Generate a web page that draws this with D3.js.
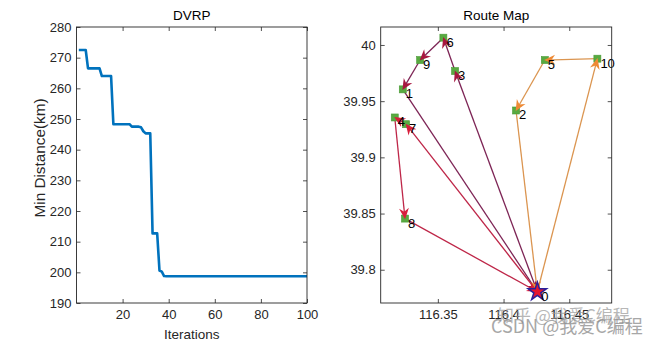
<!DOCTYPE html>
<html>
<head>
<meta charset="utf-8">
<script src="https://cdn.jsdelivr.net/npm/d3@7"></script>
<style>
  html, body { margin: 0; padding: 0; background: #fff; }
  svg { display: block; font-family: "Liberation Sans", Arial, Helvetica, sans-serif; }
</style>
</head>
<body>
<svg id="chart" width="665" height="344"></svg>
<script>
// ---------- DATA ----------
const iterations = d3.range(1, 101);
const minDistance = [
  272.5, 272.5, 272.5, 272.5,
  266.5, 266.5, 266.5, 266.5, 266.5, 266.5,
  264.0, 264.0, 264.0, 264.0, 264.0,
  248.3, 248.3, 248.3, 248.3, 248.3, 248.3, 248.3, 248.3,
  247.5, 247.5, 247.5, 247.5,
  247.3, 246.0, 245.3, 245.3, 245.3,
  212.7, 212.7, 212.7,
  200.6, 200.2, 198.8
].concat(new Array(62).fill(198.7));
const distYTicks = [190, 200, 210, 220, 230, 240, 250, 260, 270, 280];
const distXTicks = [20, 40, 60, 80, 100];

const nodeIds = [0, 1, 2, 3, 4, 5, 6, 7, 8, 9, 10];
const nodeLon = [116.4257, 116.3233, 116.4095, 116.3631, 116.3172, 116.4314, 116.3542, 116.3258, 116.3250, 116.3365, 116.4714];
const nodeLat = [39.7804, 39.9605, 39.9417, 39.9768, 39.9355, 39.9866, 40.0065, 39.9295, 39.8455, 39.9866, 39.9878];
const routeA = [0, 3, 6, 9, 1, 0];
const routeB = [0, 7, 4, 8, 0];
const routeC = [0, 10, 5, 2, 0];
const mapXTicks = [116.35, 116.4, 116.45];
const mapYTicks = [39.8, 39.85, 39.9, 39.95, 40];

// ---------- SETUP ----------
const svg = d3.select("#chart");
const axisColor = "#262626";
const fontSize = 13;

function styleAxis(g) {
  g.select(".domain").remove();
  g.selectAll(".tick line").attr("stroke", axisColor).attr("stroke-width", 0.8);
  g.selectAll(".tick text").attr("fill", axisColor).style("font-size", fontSize + "px")
    .style("font-family", '"Liberation Sans", Arial, Helvetica, sans-serif');
}

function frame(x0, x1, y0, y1, xs, ys, xt, yt, fmtX, fmtY) {
  const g = svg.append("g");
  g.append("g").attr("transform", `translate(0,${y1})`)
    .call(d3.axisBottom(xs).tickValues(xt).tickSize(-4).tickPadding(7).tickFormat(fmtX)).call(styleAxis);
  g.append("g").attr("transform", `translate(0,${y0})`)
    .call(d3.axisTop(xs).tickValues(xt).tickSize(-4).tickFormat("")).call(styleAxis);
  g.append("g").attr("transform", `translate(${x0},0)`)
    .call(d3.axisLeft(ys).tickValues(yt).tickSize(-4).tickPadding(5).tickFormat(fmtY)).call(styleAxis);
  g.append("g").attr("transform", `translate(${x1},0)`)
    .call(d3.axisRight(ys).tickValues(yt).tickSize(-4).tickFormat("")).call(styleAxis);
  g.append("rect").attr("x", x0).attr("y", y0).attr("width", x1 - x0).attr("height", y1 - y0)
    .attr("fill", "none").attr("stroke", axisColor).attr("stroke-width", 0.9);
  return g;
}

// ---------- LEFT: DVRP ----------
const L = { x0: 76.5, x1: 307, y0: 27, y1: 303 };
const xD = d3.scaleLinear().domain([0, 100]).range([L.x0, L.x1]);
const yD = d3.scaleLinear().domain([190, 280]).range([L.y1, L.y0]);

svg.append("path")
  .datum(iterations.map((it, i) => [it, minDistance[i]]))
  .attr("fill", "none").attr("stroke", "#0072BD").attr("stroke-width", 2.6)
  .attr("stroke-linejoin", "round")
  .attr("d", d3.line().x(d => xD(d[0])).y(d => yD(d[1])));

frame(L.x0, L.x1, L.y0, L.y1, xD, yD, distXTicks, distYTicks, d3.format("d"), d3.format("d"));

svg.append("text").attr("x", (L.x0 + L.x1) / 2).attr("y", 20).attr("text-anchor", "middle")
  .attr("fill", "#000").style("font-size", "13.5px").text("DVRP");
svg.append("text").attr("x", (L.x0 + L.x1) / 2).attr("y", 339).attr("text-anchor", "middle")
  .attr("fill", axisColor).style("font-size", "13.5px").text("Iterations");
svg.append("text").attr("transform", `translate(45,${(L.y0 + L.y1) / 2 - 7}) rotate(-90)`)
  .attr("text-anchor", "middle").attr("fill", axisColor).style("font-size", "14px")
  .attr("textLength", 119).attr("lengthAdjust", "spacingAndGlyphs")
  .text("Min Distance(km)");

// ---------- RIGHT: Route Map ----------
const R = { x0: 380.7, x1: 611.7, y0: 27, y1: 303 };
const xM = d3.scaleLinear().domain([116.3065, 116.4823]).range([R.x0, R.x1]);
const yM = d3.scaleLinear().domain([39.7704, 40.016]).range([R.y1, R.y0]);
const fmtMap = d => String(+d.toFixed(2));

const routes = [
  { stops: routeA, line: "#7D2455", head: "#A8173F" },
  { stops: routeB, line: "#BE2648", head: "#D81E3C" },
  { stops: routeC, line: "#DB9550", head: "#EE8A35" }
];

const px = i => xM(nodeLon[i]);
const py = i => yM(nodeLat[i]);

const gLines = svg.append("g");
routes.forEach(r => {
  r.headPaths = [];
  for (let k = 0; k < r.stops.length - 1; k++) {
    const a = r.stops[k], b = r.stops[k + 1];
    const x1 = px(a), y1 = py(a), x2 = px(b), y2 = py(b);
    gLines.append("line").attr("x1", x1).attr("y1", y1).attr("x2", x2).attr("y2", y2)
      .attr("stroke", r.line).attr("stroke-width", 1.3);
    const dx = x2 - x1, dy = y2 - y1, len = Math.hypot(dx, dy);
    const ux = dx / len, uy = dy / len;
    const tx = x2 - ux * 1, ty = y2 - uy * 1;
    const hl = 8, ang = 0.42;
    const c = Math.cos(ang), s = Math.sin(ang);
    const b1x = tx - hl * (ux * c - uy * s), b1y = ty - hl * (uy * c + ux * s);
    const b2x = tx - hl * (ux * c + uy * s), b2y = ty - hl * (uy * c - ux * s);
    const nx = tx - ux * 5, ny = ty - uy * 5;
    r.headPaths.push(`M${b1x},${b1y}L${tx},${ty}L${b2x},${b2y}L${nx},${ny}Z`);
  }
});

// markers (customers)
svg.append("g").selectAll("rect").data(nodeIds.filter(d => d !== 0)).join("rect")
  .attr("x", d => px(d) - 3.5).attr("y", d => py(d) - 3.5)
  .attr("width", 7).attr("height", 7)
  .attr("fill", "#58AA40").attr("stroke", "#4A9A36").attr("stroke-width", 0.6);

// arrow heads
const gHeads = svg.append("g");
routes.forEach(r => {
  r.headPaths.forEach(p => {
    gHeads.append("path").attr("d", p).attr("fill", r.head).attr("stroke", r.head)
      .attr("stroke-width", 1.4).attr("stroke-linejoin", "miter");
  });
});

// depot star
const star = d3.symbol().type(d3.symbolStar).size(105);
svg.append("path").attr("d", star())
  .attr("transform", `translate(${px(0)},${py(0)})`)
  .attr("fill", "#E4162E").attr("stroke", "#2A1F9A").attr("stroke-width", 1.5);

// node labels
svg.append("g").selectAll("text").data(nodeIds).join("text")
  .attr("x", d => px(d) + (d === 0 ? 4 : 3))
  .attr("y", d => py(d) + 9)
  .attr("fill", "#000").style("font-size", "13px")
  .text(d => d);

frame(R.x0, R.x1, R.y0, R.y1, xM, yM, mapXTicks, mapYTicks, fmtMap, fmtMap);

svg.append("text").attr("x", (R.x0 + R.x1) / 2).attr("y", 20).attr("text-anchor", "middle")
  .attr("fill", "#000").style("font-size", "13.5px").text("Route Map");

// watermarks (present in the reference image)
svg.append("text").attr("x", 497).attr("y", 322)
  .attr("fill", "#9a9a9a").attr("opacity", 0.7).style("font-size", "17px")
  .style("font-family", '"Noto Sans CJK SC", sans-serif').text("知乎 @我爱C编程");
svg.append("text").attr("x", 491).attr("y", 333)
  .attr("fill", "#8a8a8a").attr("opacity", 0.75).style("font-size", "18px")
  .style("font-family", '"Noto Sans CJK SC", sans-serif').text("CSDN @我爱C编程");
</script>
</body>
</html>
